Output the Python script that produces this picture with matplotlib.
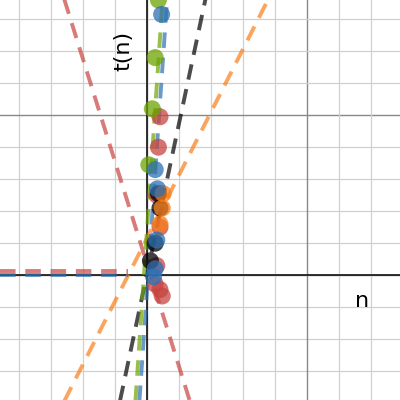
import matplotlib
matplotlib.use("Agg")
import matplotlib.pyplot as plt
import numpy as np

# lines: (intercept, slope) in data units
line_names = ["red", "orange", "black", "green", "blue"]
line_colors = ["#c74440", "#fa7e19", "#000000", "#6ca300", "#2d70b3"]
line_slopes = [-3.2, 1.97, 4.7, 14.8, 14.5]
line_intercepts = [0.33, 1.17, 0.07, 1.5, -0.4]
# horizontal left segments
hseg_levels = [0.12, 0.0]
hseg_colors = ["#c74440", "#2d70b3"]

red_x = [0.40, 0.47, 0.25, 0.40, 0.35, 0.30, 0.40, 0.30]
red_y = [-0.45, -0.65, -0.28, 4.95, 4.0, 2.5, 1.5, 0.3]
green_x = [0.25, 0.16, 0.05, 0.35]
green_y = [6.8, 5.2, 3.45, 8.6]
blue_x = [0.45, 0.32, 0.25, 0.30, 0.25, 0.20]
blue_y = [8.15, 2.7, 0.2, 1.1, 3.3, -0.05]
black_x = [0.25, 0.40, 0.35, 0.10]
black_y = [1.0, 2.1, 2.55, 0.45]
orange_x = [0.47, 0.50, 0.40]
orange_y = [2.1, 2.55, 1.6]

fig = plt.figure(figsize=(4, 4), dpi=100)
ax = fig.add_axes([0, 0, 1, 1])
xmin, xmax, ymin, ymax = -4.6, 7.9, -3.9, 8.6
ax.set_xlim(xmin, xmax); ax.set_ylim(ymin, ymax)
for v in range(-4, 9):
    c, lw = ("#888888", 1.0) if v % 5 == 0 else ("#d0d0d0", 0.9)
    ax.axvline(v, color=c, lw=lw, zorder=0)
    ax.axhline(v, color=c, lw=lw, zorder=0)
ax.axhline(0, color="#222222", lw=1.3, zorder=1)
ax.axvline(0, color="#222222", lw=1.3, zorder=1)

xs = np.linspace(xmin, xmax, 400)
for c, m, b in zip(line_colors, line_slopes, line_intercepts):
    ax.plot(xs, m * xs + b, color=c, lw=2.8, ls=(0, (4, 2.5)), alpha=0.7, zorder=2)
for lvl, c in zip(hseg_levels, hseg_colors):
    ax.plot([xmin, -0.6], [lvl, lvl], color=c, lw=2.8, ls=(0, (4, 2.5)), alpha=0.7, zorder=2)

for xx, yy, c in [(red_x, red_y, "#c74440"), (green_x, green_y, "#6ca300"),
                  (black_x, black_y, "#000000"), (orange_x, orange_y, "#fa7e19"),
                  (blue_x, blue_y, "#2d70b3")]:
    ax.scatter(xx, yy, s=150, color=c, alpha=0.75, edgecolors="none", zorder=3)

ax.text(6.7, -0.8, "n", fontsize=16, ha="center", va="center")
ax.text(-0.75, 7.0, "t(n)", fontsize=16, rotation=90, ha="center", va="center")
ax.set_xticks([]); ax.set_yticks([])
for s in ax.spines.values():
    s.set_visible(False)
fig.savefig("out.png", dpi=100)
